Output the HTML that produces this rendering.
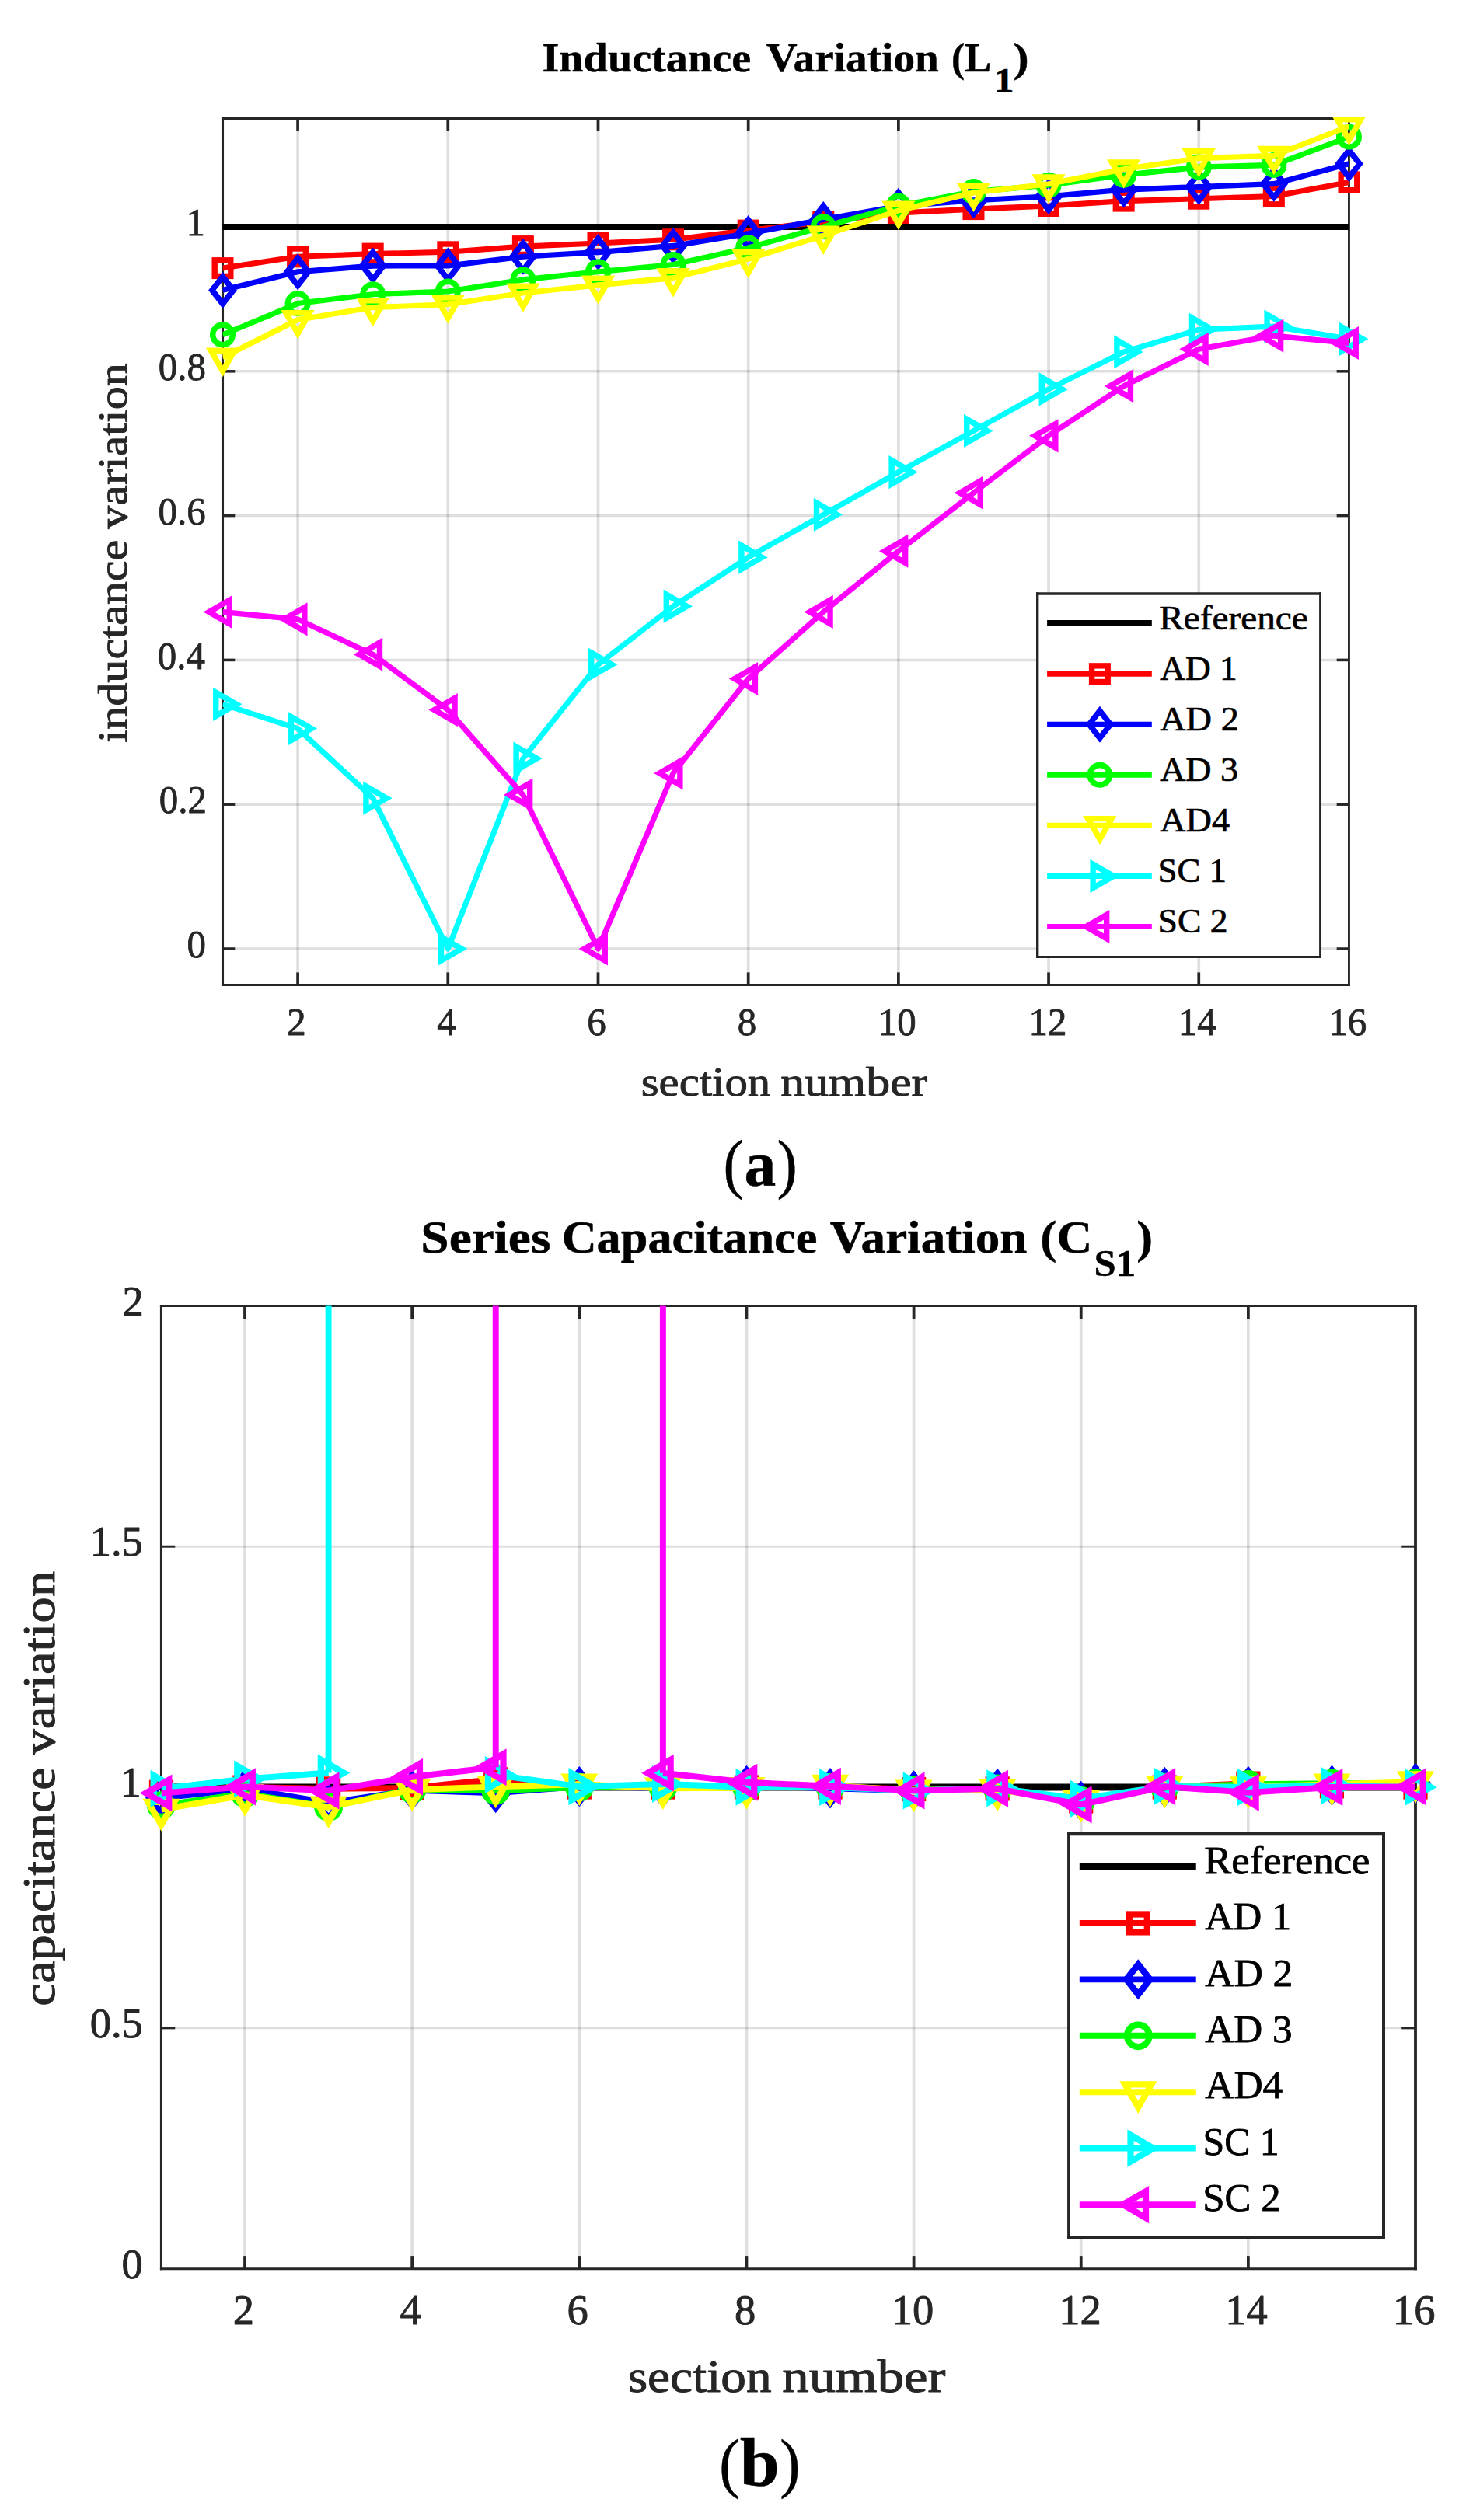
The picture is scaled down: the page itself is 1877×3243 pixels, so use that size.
<!DOCTYPE html>
<html lang="en">
<head>
<meta charset="utf-8">
<title>Inductance and Series Capacitance Variation</title>
<style>
html,body{margin:0;padding:0;background:#fff;}
body{width:1877px;height:3243px;overflow:hidden;}
svg{display:block;}
text{white-space:pre;}
</style>
</head>
<body>
<svg width="1877" height="3243" viewBox="0 0 1877 3243" font-family="'Liberation Serif', serif">
<rect width="1877" height="3243" fill="#fff"/>
<line x1="383.10" y1="152.90" x2="383.10" y2="1267.50" stroke="#262626" stroke-opacity="0.15" stroke-width="3.70"/>
<line x1="576.29" y1="152.90" x2="576.29" y2="1267.50" stroke="#262626" stroke-opacity="0.15" stroke-width="3.70"/>
<line x1="769.48" y1="152.90" x2="769.48" y2="1267.50" stroke="#262626" stroke-opacity="0.15" stroke-width="3.70"/>
<line x1="962.68" y1="152.90" x2="962.68" y2="1267.50" stroke="#262626" stroke-opacity="0.15" stroke-width="3.70"/>
<line x1="1155.87" y1="152.90" x2="1155.87" y2="1267.50" stroke="#262626" stroke-opacity="0.15" stroke-width="3.70"/>
<line x1="1349.06" y1="152.90" x2="1349.06" y2="1267.50" stroke="#262626" stroke-opacity="0.15" stroke-width="3.70"/>
<line x1="1542.26" y1="152.90" x2="1542.26" y2="1267.50" stroke="#262626" stroke-opacity="0.15" stroke-width="3.70"/>
<line x1="286.50" y1="1221.00" x2="1735.45" y2="1221.00" stroke="#262626" stroke-opacity="0.15" stroke-width="3.50"/>
<line x1="286.50" y1="1035.20" x2="1735.45" y2="1035.20" stroke="#262626" stroke-opacity="0.15" stroke-width="3.50"/>
<line x1="286.50" y1="849.40" x2="1735.45" y2="849.40" stroke="#262626" stroke-opacity="0.15" stroke-width="3.50"/>
<line x1="286.50" y1="663.60" x2="1735.45" y2="663.60" stroke="#262626" stroke-opacity="0.15" stroke-width="3.50"/>
<line x1="286.50" y1="477.80" x2="1735.45" y2="477.80" stroke="#262626" stroke-opacity="0.15" stroke-width="3.50"/>
<line x1="286.50" y1="292.00" x2="1735.45" y2="292.00" stroke="#262626" stroke-opacity="0.15" stroke-width="3.50"/>
<line x1="383.10" y1="1267.50" x2="383.10" y2="1251.40" stroke="#262626" stroke-width="3.70"/>
<line x1="383.10" y1="152.90" x2="383.10" y2="169.00" stroke="#262626" stroke-width="3.70"/>
<line x1="576.29" y1="1267.50" x2="576.29" y2="1251.40" stroke="#262626" stroke-width="3.70"/>
<line x1="576.29" y1="152.90" x2="576.29" y2="169.00" stroke="#262626" stroke-width="3.70"/>
<line x1="769.48" y1="1267.50" x2="769.48" y2="1251.40" stroke="#262626" stroke-width="3.70"/>
<line x1="769.48" y1="152.90" x2="769.48" y2="169.00" stroke="#262626" stroke-width="3.70"/>
<line x1="962.68" y1="1267.50" x2="962.68" y2="1251.40" stroke="#262626" stroke-width="3.70"/>
<line x1="962.68" y1="152.90" x2="962.68" y2="169.00" stroke="#262626" stroke-width="3.70"/>
<line x1="1155.87" y1="1267.50" x2="1155.87" y2="1251.40" stroke="#262626" stroke-width="3.70"/>
<line x1="1155.87" y1="152.90" x2="1155.87" y2="169.00" stroke="#262626" stroke-width="3.70"/>
<line x1="1349.06" y1="1267.50" x2="1349.06" y2="1251.40" stroke="#262626" stroke-width="3.70"/>
<line x1="1349.06" y1="152.90" x2="1349.06" y2="169.00" stroke="#262626" stroke-width="3.70"/>
<line x1="1542.26" y1="1267.50" x2="1542.26" y2="1251.40" stroke="#262626" stroke-width="3.70"/>
<line x1="1542.26" y1="152.90" x2="1542.26" y2="169.00" stroke="#262626" stroke-width="3.70"/>
<line x1="286.50" y1="1221.00" x2="302.30" y2="1221.00" stroke="#262626" stroke-width="3.50"/>
<line x1="1735.45" y1="1221.00" x2="1719.65" y2="1221.00" stroke="#262626" stroke-width="3.50"/>
<line x1="286.50" y1="1035.20" x2="302.30" y2="1035.20" stroke="#262626" stroke-width="3.50"/>
<line x1="1735.45" y1="1035.20" x2="1719.65" y2="1035.20" stroke="#262626" stroke-width="3.50"/>
<line x1="286.50" y1="849.40" x2="302.30" y2="849.40" stroke="#262626" stroke-width="3.50"/>
<line x1="1735.45" y1="849.40" x2="1719.65" y2="849.40" stroke="#262626" stroke-width="3.50"/>
<line x1="286.50" y1="663.60" x2="302.30" y2="663.60" stroke="#262626" stroke-width="3.50"/>
<line x1="1735.45" y1="663.60" x2="1719.65" y2="663.60" stroke="#262626" stroke-width="3.50"/>
<line x1="286.50" y1="477.80" x2="302.30" y2="477.80" stroke="#262626" stroke-width="3.50"/>
<line x1="1735.45" y1="477.80" x2="1719.65" y2="477.80" stroke="#262626" stroke-width="3.50"/>
<line x1="286.50" y1="292.00" x2="302.30" y2="292.00" stroke="#262626" stroke-width="3.50"/>
<line x1="1735.45" y1="292.00" x2="1719.65" y2="292.00" stroke="#262626" stroke-width="3.50"/>
<line x1="284.95" y1="152.90" x2="1736.90" y2="152.90" stroke="#262626" stroke-width="3.84"/>
<line x1="284.95" y1="1267.50" x2="1736.90" y2="1267.50" stroke="#262626" stroke-width="2.90"/>
<line x1="286.50" y1="150.98" x2="286.50" y2="1268.95" stroke="#262626" stroke-width="3.10"/>
<line x1="1735.45" y1="150.98" x2="1735.45" y2="1268.95" stroke="#262626" stroke-width="2.90"/>
<clipPath id="cp1"><rect x="286.50" y="152.90" width="1448.95" height="1114.60"/></clipPath>
<line x1="286.50" y1="292.00" x2="1735.45" y2="292.00" stroke="#000" stroke-width="8.00"/>
<g clip-path="url(#cp1)"><path d="M286.5 345.1L383.1 330.3L479.7 326.6L576.3 324.3L672.9 317.1L769.5 313.0L866.1 308.3L962.7 296.6L1059.3 285.3L1155.9 274.0L1252.5 269.1L1349.1 265.0L1445.7 258.6L1542.3 255.7L1638.9 252.5L1735.5 234.4" fill="none" stroke="#ff0000" stroke-width="7.10" stroke-linejoin="round"/></g>
<rect x="276.20" y="334.80" width="20.60" height="20.60" fill="none" stroke="#ff0000" stroke-width="7.40" stroke-linejoin="miter" stroke-miterlimit="10"/><rect x="372.80" y="320.00" width="20.60" height="20.60" fill="none" stroke="#ff0000" stroke-width="7.40" stroke-linejoin="miter" stroke-miterlimit="10"/><rect x="469.39" y="316.30" width="20.60" height="20.60" fill="none" stroke="#ff0000" stroke-width="7.40" stroke-linejoin="miter" stroke-miterlimit="10"/><rect x="565.99" y="314.00" width="20.60" height="20.60" fill="none" stroke="#ff0000" stroke-width="7.40" stroke-linejoin="miter" stroke-miterlimit="10"/><rect x="662.59" y="306.80" width="20.60" height="20.60" fill="none" stroke="#ff0000" stroke-width="7.40" stroke-linejoin="miter" stroke-miterlimit="10"/><rect x="759.18" y="302.70" width="20.60" height="20.60" fill="none" stroke="#ff0000" stroke-width="7.40" stroke-linejoin="miter" stroke-miterlimit="10"/><rect x="855.78" y="298.00" width="20.60" height="20.60" fill="none" stroke="#ff0000" stroke-width="7.40" stroke-linejoin="miter" stroke-miterlimit="10"/><rect x="952.38" y="286.30" width="20.60" height="20.60" fill="none" stroke="#ff0000" stroke-width="7.40" stroke-linejoin="miter" stroke-miterlimit="10"/><rect x="1048.97" y="275.00" width="20.60" height="20.60" fill="none" stroke="#ff0000" stroke-width="7.40" stroke-linejoin="miter" stroke-miterlimit="10"/><rect x="1145.57" y="263.70" width="20.60" height="20.60" fill="none" stroke="#ff0000" stroke-width="7.40" stroke-linejoin="miter" stroke-miterlimit="10"/><rect x="1242.17" y="258.80" width="20.60" height="20.60" fill="none" stroke="#ff0000" stroke-width="7.40" stroke-linejoin="miter" stroke-miterlimit="10"/><rect x="1338.76" y="254.70" width="20.60" height="20.60" fill="none" stroke="#ff0000" stroke-width="7.40" stroke-linejoin="miter" stroke-miterlimit="10"/><rect x="1435.36" y="248.30" width="20.60" height="20.60" fill="none" stroke="#ff0000" stroke-width="7.40" stroke-linejoin="miter" stroke-miterlimit="10"/><rect x="1531.96" y="245.40" width="20.60" height="20.60" fill="none" stroke="#ff0000" stroke-width="7.40" stroke-linejoin="miter" stroke-miterlimit="10"/><rect x="1628.55" y="242.20" width="20.60" height="20.60" fill="none" stroke="#ff0000" stroke-width="7.40" stroke-linejoin="miter" stroke-miterlimit="10"/><rect x="1725.15" y="224.10" width="20.60" height="20.60" fill="none" stroke="#ff0000" stroke-width="7.40" stroke-linejoin="miter" stroke-miterlimit="10"/>
<g clip-path="url(#cp1)"><path d="M286.5 373.4L383.1 349.7L479.7 342.1L576.3 342.0L672.9 330.3L769.5 324.6L866.1 316.4L962.7 300.6L1059.3 282.5L1155.9 265.3L1252.5 257.9L1349.1 252.7L1445.7 244.1L1542.3 240.5L1638.9 236.6L1735.5 210.8" fill="none" stroke="#0000ff" stroke-width="7.10" stroke-linejoin="round"/></g>
<path d="M286.50 355.90L300.20 373.40L286.50 390.90L272.80 373.40Z" fill="none" stroke="#0000ff" stroke-width="7.40" stroke-linejoin="miter" stroke-miterlimit="10"/><path d="M383.10 332.20L396.80 349.70L383.10 367.20L369.40 349.70Z" fill="none" stroke="#0000ff" stroke-width="7.40" stroke-linejoin="miter" stroke-miterlimit="10"/><path d="M479.69 324.60L493.39 342.10L479.69 359.60L465.99 342.10Z" fill="none" stroke="#0000ff" stroke-width="7.40" stroke-linejoin="miter" stroke-miterlimit="10"/><path d="M576.29 324.50L589.99 342.00L576.29 359.50L562.59 342.00Z" fill="none" stroke="#0000ff" stroke-width="7.40" stroke-linejoin="miter" stroke-miterlimit="10"/><path d="M672.89 312.80L686.59 330.30L672.89 347.80L659.19 330.30Z" fill="none" stroke="#0000ff" stroke-width="7.40" stroke-linejoin="miter" stroke-miterlimit="10"/><path d="M769.48 307.10L783.18 324.60L769.48 342.10L755.78 324.60Z" fill="none" stroke="#0000ff" stroke-width="7.40" stroke-linejoin="miter" stroke-miterlimit="10"/><path d="M866.08 298.90L879.78 316.40L866.08 333.90L852.38 316.40Z" fill="none" stroke="#0000ff" stroke-width="7.40" stroke-linejoin="miter" stroke-miterlimit="10"/><path d="M962.68 283.10L976.38 300.60L962.68 318.10L948.98 300.60Z" fill="none" stroke="#0000ff" stroke-width="7.40" stroke-linejoin="miter" stroke-miterlimit="10"/><path d="M1059.27 265.00L1072.97 282.50L1059.27 300.00L1045.57 282.50Z" fill="none" stroke="#0000ff" stroke-width="7.40" stroke-linejoin="miter" stroke-miterlimit="10"/><path d="M1155.87 247.80L1169.57 265.30L1155.87 282.80L1142.17 265.30Z" fill="none" stroke="#0000ff" stroke-width="7.40" stroke-linejoin="miter" stroke-miterlimit="10"/><path d="M1252.47 240.40L1266.17 257.90L1252.47 275.40L1238.77 257.90Z" fill="none" stroke="#0000ff" stroke-width="7.40" stroke-linejoin="miter" stroke-miterlimit="10"/><path d="M1349.06 235.20L1362.76 252.70L1349.06 270.20L1335.36 252.70Z" fill="none" stroke="#0000ff" stroke-width="7.40" stroke-linejoin="miter" stroke-miterlimit="10"/><path d="M1445.66 226.60L1459.36 244.10L1445.66 261.60L1431.96 244.10Z" fill="none" stroke="#0000ff" stroke-width="7.40" stroke-linejoin="miter" stroke-miterlimit="10"/><path d="M1542.26 223.00L1555.96 240.50L1542.26 258.00L1528.56 240.50Z" fill="none" stroke="#0000ff" stroke-width="7.40" stroke-linejoin="miter" stroke-miterlimit="10"/><path d="M1638.85 219.10L1652.55 236.60L1638.85 254.10L1625.15 236.60Z" fill="none" stroke="#0000ff" stroke-width="7.40" stroke-linejoin="miter" stroke-miterlimit="10"/><path d="M1735.45 193.30L1749.15 210.80L1735.45 228.30L1721.75 210.80Z" fill="none" stroke="#0000ff" stroke-width="7.40" stroke-linejoin="miter" stroke-miterlimit="10"/>
<g clip-path="url(#cp1)"><path d="M286.5 430.8L383.1 390.6L479.7 378.7L576.3 375.0L672.9 359.9L769.5 349.7L866.1 340.5L962.7 318.9L1059.3 291.8L1155.9 265.1L1252.5 246.6L1349.1 238.3L1445.7 225.3L1542.3 215.1L1638.9 212.4L1735.5 176.2" fill="none" stroke="#00ff00" stroke-width="7.10" stroke-linejoin="round"/></g>
<circle cx="286.50" cy="430.80" r="12.80" fill="none" stroke="#00ff00" stroke-width="7.40" stroke-linejoin="miter" stroke-miterlimit="10"/><circle cx="383.10" cy="390.60" r="12.80" fill="none" stroke="#00ff00" stroke-width="7.40" stroke-linejoin="miter" stroke-miterlimit="10"/><circle cx="479.69" cy="378.70" r="12.80" fill="none" stroke="#00ff00" stroke-width="7.40" stroke-linejoin="miter" stroke-miterlimit="10"/><circle cx="576.29" cy="375.00" r="12.80" fill="none" stroke="#00ff00" stroke-width="7.40" stroke-linejoin="miter" stroke-miterlimit="10"/><circle cx="672.89" cy="359.90" r="12.80" fill="none" stroke="#00ff00" stroke-width="7.40" stroke-linejoin="miter" stroke-miterlimit="10"/><circle cx="769.48" cy="349.70" r="12.80" fill="none" stroke="#00ff00" stroke-width="7.40" stroke-linejoin="miter" stroke-miterlimit="10"/><circle cx="866.08" cy="340.50" r="12.80" fill="none" stroke="#00ff00" stroke-width="7.40" stroke-linejoin="miter" stroke-miterlimit="10"/><circle cx="962.68" cy="318.90" r="12.80" fill="none" stroke="#00ff00" stroke-width="7.40" stroke-linejoin="miter" stroke-miterlimit="10"/><circle cx="1059.27" cy="291.80" r="12.80" fill="none" stroke="#00ff00" stroke-width="7.40" stroke-linejoin="miter" stroke-miterlimit="10"/><circle cx="1155.87" cy="265.10" r="12.80" fill="none" stroke="#00ff00" stroke-width="7.40" stroke-linejoin="miter" stroke-miterlimit="10"/><circle cx="1252.47" cy="246.60" r="12.80" fill="none" stroke="#00ff00" stroke-width="7.40" stroke-linejoin="miter" stroke-miterlimit="10"/><circle cx="1349.06" cy="238.30" r="12.80" fill="none" stroke="#00ff00" stroke-width="7.40" stroke-linejoin="miter" stroke-miterlimit="10"/><circle cx="1445.66" cy="225.30" r="12.80" fill="none" stroke="#00ff00" stroke-width="7.40" stroke-linejoin="miter" stroke-miterlimit="10"/><circle cx="1542.26" cy="215.10" r="12.80" fill="none" stroke="#00ff00" stroke-width="7.40" stroke-linejoin="miter" stroke-miterlimit="10"/><circle cx="1638.85" cy="212.40" r="12.80" fill="none" stroke="#00ff00" stroke-width="7.40" stroke-linejoin="miter" stroke-miterlimit="10"/><circle cx="1735.45" cy="176.20" r="12.80" fill="none" stroke="#00ff00" stroke-width="7.40" stroke-linejoin="miter" stroke-miterlimit="10"/>
<g clip-path="url(#cp1)"><path d="M286.5 460.0L383.1 411.5L479.7 395.6L576.3 391.8L672.9 377.0L769.5 366.9L866.1 357.6L962.7 333.3L1059.3 303.1L1155.9 271.0L1252.5 248.0L1349.1 236.8L1445.7 217.7L1542.3 203.6L1638.9 200.2L1735.5 162.5" fill="none" stroke="#ffff00" stroke-width="7.10" stroke-linejoin="round"/></g>
<path d="M271.30 451.22L301.70 451.22L286.50 477.55Z" fill="none" stroke="#ffff00" stroke-width="7.40" stroke-linejoin="miter" stroke-miterlimit="10"/><path d="M367.90 402.72L398.30 402.72L383.10 429.05Z" fill="none" stroke="#ffff00" stroke-width="7.40" stroke-linejoin="miter" stroke-miterlimit="10"/><path d="M464.49 386.82L494.89 386.82L479.69 413.15Z" fill="none" stroke="#ffff00" stroke-width="7.40" stroke-linejoin="miter" stroke-miterlimit="10"/><path d="M561.09 383.02L591.49 383.02L576.29 409.35Z" fill="none" stroke="#ffff00" stroke-width="7.40" stroke-linejoin="miter" stroke-miterlimit="10"/><path d="M657.69 368.22L688.09 368.22L672.89 394.55Z" fill="none" stroke="#ffff00" stroke-width="7.40" stroke-linejoin="miter" stroke-miterlimit="10"/><path d="M754.28 358.12L784.68 358.12L769.48 384.45Z" fill="none" stroke="#ffff00" stroke-width="7.40" stroke-linejoin="miter" stroke-miterlimit="10"/><path d="M850.88 348.82L881.28 348.82L866.08 375.15Z" fill="none" stroke="#ffff00" stroke-width="7.40" stroke-linejoin="miter" stroke-miterlimit="10"/><path d="M947.48 324.52L977.88 324.52L962.68 350.85Z" fill="none" stroke="#ffff00" stroke-width="7.40" stroke-linejoin="miter" stroke-miterlimit="10"/><path d="M1044.07 294.32L1074.47 294.32L1059.27 320.65Z" fill="none" stroke="#ffff00" stroke-width="7.40" stroke-linejoin="miter" stroke-miterlimit="10"/><path d="M1140.67 262.22L1171.07 262.22L1155.87 288.55Z" fill="none" stroke="#ffff00" stroke-width="7.40" stroke-linejoin="miter" stroke-miterlimit="10"/><path d="M1237.27 239.22L1267.67 239.22L1252.47 265.55Z" fill="none" stroke="#ffff00" stroke-width="7.40" stroke-linejoin="miter" stroke-miterlimit="10"/><path d="M1333.86 228.02L1364.26 228.02L1349.06 254.35Z" fill="none" stroke="#ffff00" stroke-width="7.40" stroke-linejoin="miter" stroke-miterlimit="10"/><path d="M1430.46 208.92L1460.86 208.92L1445.66 235.25Z" fill="none" stroke="#ffff00" stroke-width="7.40" stroke-linejoin="miter" stroke-miterlimit="10"/><path d="M1527.06 194.82L1557.46 194.82L1542.26 221.15Z" fill="none" stroke="#ffff00" stroke-width="7.40" stroke-linejoin="miter" stroke-miterlimit="10"/><path d="M1623.65 191.42L1654.05 191.42L1638.85 217.75Z" fill="none" stroke="#ffff00" stroke-width="7.40" stroke-linejoin="miter" stroke-miterlimit="10"/><path d="M1720.25 153.72L1750.65 153.72L1735.45 180.05Z" fill="none" stroke="#ffff00" stroke-width="7.40" stroke-linejoin="miter" stroke-miterlimit="10"/>
<g clip-path="url(#cp1)"><path d="M286.5 906.3L383.1 937.6L479.7 1027.2L576.3 1221.0L672.9 976.1L769.5 855.3L866.1 780.2L962.7 717.2L1059.3 662.3L1155.9 607.6L1252.5 554.5L1349.1 500.9L1445.7 452.9L1542.3 424.3L1638.9 420.1L1735.5 436.3" fill="none" stroke="#00ffff" stroke-width="7.10" stroke-linejoin="round"/></g>
<path d="M277.72 891.10L277.72 921.50L304.05 906.30Z" fill="none" stroke="#00ffff" stroke-width="7.40" stroke-linejoin="miter" stroke-miterlimit="10"/><path d="M374.32 922.40L374.32 952.80L400.65 937.60Z" fill="none" stroke="#00ffff" stroke-width="7.40" stroke-linejoin="miter" stroke-miterlimit="10"/><path d="M470.92 1012.00L470.92 1042.40L497.24 1027.20Z" fill="none" stroke="#00ffff" stroke-width="7.40" stroke-linejoin="miter" stroke-miterlimit="10"/><path d="M567.51 1205.80L567.51 1236.20L593.84 1221.00Z" fill="none" stroke="#00ffff" stroke-width="7.40" stroke-linejoin="miter" stroke-miterlimit="10"/><path d="M664.11 960.90L664.11 991.30L690.44 976.10Z" fill="none" stroke="#00ffff" stroke-width="7.40" stroke-linejoin="miter" stroke-miterlimit="10"/><path d="M760.71 840.10L760.71 870.50L787.03 855.30Z" fill="none" stroke="#00ffff" stroke-width="7.40" stroke-linejoin="miter" stroke-miterlimit="10"/><path d="M857.30 765.00L857.30 795.40L883.63 780.20Z" fill="none" stroke="#00ffff" stroke-width="7.40" stroke-linejoin="miter" stroke-miterlimit="10"/><path d="M953.90 702.00L953.90 732.40L980.23 717.20Z" fill="none" stroke="#00ffff" stroke-width="7.40" stroke-linejoin="miter" stroke-miterlimit="10"/><path d="M1050.50 647.10L1050.50 677.50L1076.82 662.30Z" fill="none" stroke="#00ffff" stroke-width="7.40" stroke-linejoin="miter" stroke-miterlimit="10"/><path d="M1147.09 592.40L1147.09 622.80L1173.42 607.60Z" fill="none" stroke="#00ffff" stroke-width="7.40" stroke-linejoin="miter" stroke-miterlimit="10"/><path d="M1243.69 539.30L1243.69 569.70L1270.02 554.50Z" fill="none" stroke="#00ffff" stroke-width="7.40" stroke-linejoin="miter" stroke-miterlimit="10"/><path d="M1340.29 485.70L1340.29 516.10L1366.61 500.90Z" fill="none" stroke="#00ffff" stroke-width="7.40" stroke-linejoin="miter" stroke-miterlimit="10"/><path d="M1436.88 437.70L1436.88 468.10L1463.21 452.90Z" fill="none" stroke="#00ffff" stroke-width="7.40" stroke-linejoin="miter" stroke-miterlimit="10"/><path d="M1533.48 409.10L1533.48 439.50L1559.81 424.30Z" fill="none" stroke="#00ffff" stroke-width="7.40" stroke-linejoin="miter" stroke-miterlimit="10"/><path d="M1630.08 404.90L1630.08 435.30L1656.40 420.10Z" fill="none" stroke="#00ffff" stroke-width="7.40" stroke-linejoin="miter" stroke-miterlimit="10"/><path d="M1726.67 421.10L1726.67 451.50L1753.00 436.30Z" fill="none" stroke="#00ffff" stroke-width="7.40" stroke-linejoin="miter" stroke-miterlimit="10"/>
<g clip-path="url(#cp1)"><path d="M286.5 787.6L383.1 796.9L479.7 842.2L576.3 913.6L672.9 1023.0L769.5 1221.0L866.1 994.9L962.7 873.5L1059.3 787.4L1155.9 709.2L1252.5 634.2L1349.1 560.8L1445.7 496.7L1542.3 449.3L1638.9 432.1L1735.5 441.5" fill="none" stroke="#ff00ff" stroke-width="7.10" stroke-linejoin="round"/></g>
<path d="M295.28 772.40L295.28 802.80L268.95 787.60Z" fill="none" stroke="#ff00ff" stroke-width="7.40" stroke-linejoin="miter" stroke-miterlimit="10"/><path d="M391.87 781.70L391.87 812.10L365.55 796.90Z" fill="none" stroke="#ff00ff" stroke-width="7.40" stroke-linejoin="miter" stroke-miterlimit="10"/><path d="M488.47 827.00L488.47 857.40L462.14 842.20Z" fill="none" stroke="#ff00ff" stroke-width="7.40" stroke-linejoin="miter" stroke-miterlimit="10"/><path d="M585.07 898.40L585.07 928.80L558.74 913.60Z" fill="none" stroke="#ff00ff" stroke-width="7.40" stroke-linejoin="miter" stroke-miterlimit="10"/><path d="M681.66 1007.80L681.66 1038.20L655.34 1023.00Z" fill="none" stroke="#ff00ff" stroke-width="7.40" stroke-linejoin="miter" stroke-miterlimit="10"/><path d="M778.26 1205.80L778.26 1236.20L751.93 1221.00Z" fill="none" stroke="#ff00ff" stroke-width="7.40" stroke-linejoin="miter" stroke-miterlimit="10"/><path d="M874.86 979.70L874.86 1010.10L848.53 994.90Z" fill="none" stroke="#ff00ff" stroke-width="7.40" stroke-linejoin="miter" stroke-miterlimit="10"/><path d="M971.45 858.30L971.45 888.70L945.13 873.50Z" fill="none" stroke="#ff00ff" stroke-width="7.40" stroke-linejoin="miter" stroke-miterlimit="10"/><path d="M1068.05 772.20L1068.05 802.60L1041.72 787.40Z" fill="none" stroke="#ff00ff" stroke-width="7.40" stroke-linejoin="miter" stroke-miterlimit="10"/><path d="M1164.65 694.00L1164.65 724.40L1138.32 709.20Z" fill="none" stroke="#ff00ff" stroke-width="7.40" stroke-linejoin="miter" stroke-miterlimit="10"/><path d="M1261.24 619.00L1261.24 649.40L1234.92 634.20Z" fill="none" stroke="#ff00ff" stroke-width="7.40" stroke-linejoin="miter" stroke-miterlimit="10"/><path d="M1357.84 545.60L1357.84 576.00L1331.51 560.80Z" fill="none" stroke="#ff00ff" stroke-width="7.40" stroke-linejoin="miter" stroke-miterlimit="10"/><path d="M1454.44 481.50L1454.44 511.90L1428.11 496.70Z" fill="none" stroke="#ff00ff" stroke-width="7.40" stroke-linejoin="miter" stroke-miterlimit="10"/><path d="M1551.03 434.10L1551.03 464.50L1524.71 449.30Z" fill="none" stroke="#ff00ff" stroke-width="7.40" stroke-linejoin="miter" stroke-miterlimit="10"/><path d="M1647.63 416.90L1647.63 447.30L1621.30 432.10Z" fill="none" stroke="#ff00ff" stroke-width="7.40" stroke-linejoin="miter" stroke-miterlimit="10"/><path d="M1744.23 426.30L1744.23 456.70L1717.90 441.50Z" fill="none" stroke="#ff00ff" stroke-width="7.40" stroke-linejoin="miter" stroke-miterlimit="10"/>
<rect x="1334.70" y="764.00" width="363.85" height="467.50" fill="#fff"/>
<line x1="1333.00" y1="764.00" x2="1700.00" y2="764.00" stroke="#262626" stroke-width="3.70"/>
<line x1="1333.00" y1="1231.50" x2="1700.00" y2="1231.50" stroke="#262626" stroke-width="2.90"/>
<line x1="1334.70" y1="762.15" x2="1334.70" y2="1232.95" stroke="#262626" stroke-width="3.40"/>
<line x1="1698.55" y1="762.15" x2="1698.55" y2="1232.95" stroke="#262626" stroke-width="2.90"/>
<line x1="1347.10" y1="802.10" x2="1481.80" y2="802.10" stroke="#000000" stroke-width="8.00"/>
<text transform="translate(1491.30,809.50) scale(1.0593,1)" font-size="44.60" fill="#000" stroke="#000" stroke-width="0.71" stroke-linejoin="round">Reference</text>
<line x1="1347.10" y1="867.17" x2="1481.80" y2="867.17" stroke="#ff0000" stroke-width="7.10"/>
<rect x="1404.60" y="856.87" width="20.60" height="20.60" fill="none" stroke="#ff0000" stroke-width="7.40" stroke-linejoin="miter" stroke-miterlimit="10"/>
<text transform="translate(1492.15,874.57) scale(1.0182,1)" font-size="44.60" fill="#000" stroke="#000" stroke-width="0.71" stroke-linejoin="round">AD 1</text>
<line x1="1347.10" y1="932.24" x2="1481.80" y2="932.24" stroke="#0000ff" stroke-width="7.10"/>
<path d="M1414.90 914.74L1428.60 932.24L1414.90 949.74L1401.20 932.24Z" fill="none" stroke="#0000ff" stroke-width="7.40" stroke-linejoin="miter" stroke-miterlimit="10"/>
<text transform="translate(1492.14,939.64) scale(1.0390,1)" font-size="44.60" fill="#000" stroke="#000" stroke-width="0.71" stroke-linejoin="round">AD 2</text>
<line x1="1347.10" y1="997.31" x2="1481.80" y2="997.31" stroke="#00ff00" stroke-width="7.10"/>
<circle cx="1414.90" cy="997.31" r="12.80" fill="none" stroke="#00ff00" stroke-width="7.40" stroke-linejoin="miter" stroke-miterlimit="10"/>
<text transform="translate(1492.14,1004.71) scale(1.0317,1)" font-size="44.60" fill="#000" stroke="#000" stroke-width="0.71" stroke-linejoin="round">AD 3</text>
<line x1="1347.10" y1="1062.38" x2="1481.80" y2="1062.38" stroke="#ffff00" stroke-width="7.10"/>
<path d="M1399.70 1053.60L1430.10 1053.60L1414.90 1079.93Z" fill="none" stroke="#ffff00" stroke-width="7.40" stroke-linejoin="miter" stroke-miterlimit="10"/>
<text transform="translate(1492.14,1069.78) scale(1.0370,1)" font-size="44.60" fill="#000" stroke="#000" stroke-width="0.71" stroke-linejoin="round">AD4</text>
<line x1="1347.10" y1="1127.45" x2="1481.80" y2="1127.45" stroke="#00ffff" stroke-width="7.10"/>
<path d="M1406.12 1112.25L1406.12 1142.65L1432.45 1127.45Z" fill="none" stroke="#00ffff" stroke-width="7.40" stroke-linejoin="miter" stroke-miterlimit="10"/>
<text transform="translate(1489.57,1134.85) scale(1.0050,1)" font-size="44.60" fill="#000" stroke="#000" stroke-width="0.71" stroke-linejoin="round">SC 1</text>
<line x1="1347.10" y1="1192.52" x2="1481.80" y2="1192.52" stroke="#ff00ff" stroke-width="7.10"/>
<path d="M1423.68 1177.32L1423.68 1207.72L1397.35 1192.52Z" fill="none" stroke="#ff00ff" stroke-width="7.40" stroke-linejoin="miter" stroke-miterlimit="10"/>
<text transform="translate(1489.52,1199.92) scale(1.0241,1)" font-size="44.60" fill="#000" stroke="#000" stroke-width="0.71" stroke-linejoin="round">SC 2</text>
<text transform="translate(240.56,1232.20) scale(0.9750,1)" font-size="50.20" fill="#262626" stroke="#262626" stroke-width="0.80" stroke-linejoin="round">0</text>
<text transform="translate(204.71,1046.40) scale(0.9750,1)" font-size="50.20" fill="#262626" stroke="#262626" stroke-width="0.80" stroke-linejoin="round">0.2</text>
<text transform="translate(202.75,860.60) scale(0.9750,1)" font-size="50.20" fill="#262626" stroke="#262626" stroke-width="0.80" stroke-linejoin="round">0.4</text>
<text transform="translate(203.49,674.80) scale(0.9750,1)" font-size="50.20" fill="#262626" stroke="#262626" stroke-width="0.80" stroke-linejoin="round">0.6</text>
<text transform="translate(203.85,489.00) scale(0.9750,1)" font-size="50.20" fill="#262626" stroke="#262626" stroke-width="0.80" stroke-linejoin="round">0.8</text>
<text transform="translate(239.46,303.20) scale(0.9750,1)" font-size="50.20" fill="#262626" stroke="#262626" stroke-width="0.80" stroke-linejoin="round">1</text>
<text transform="translate(369.37,1331.70) scale(0.9750,1)" font-size="50.20" fill="#262626" stroke="#262626" stroke-width="0.80" stroke-linejoin="round">2</text>
<text transform="translate(562.13,1331.70) scale(0.9750,1)" font-size="50.20" fill="#262626" stroke="#262626" stroke-width="0.80" stroke-linejoin="round">4</text>
<text transform="translate(755.14,1331.70) scale(0.9750,1)" font-size="50.20" fill="#262626" stroke="#262626" stroke-width="0.80" stroke-linejoin="round">6</text>
<text transform="translate(948.64,1331.70) scale(0.9750,1)" font-size="50.20" fill="#262626" stroke="#262626" stroke-width="0.80" stroke-linejoin="round">8</text>
<text transform="translate(1129.87,1331.70) scale(0.9750,1)" font-size="50.20" fill="#262626" stroke="#262626" stroke-width="0.80" stroke-linejoin="round">10</text>
<text transform="translate(1323.50,1331.70) scale(0.9750,1)" font-size="50.20" fill="#262626" stroke="#262626" stroke-width="0.80" stroke-linejoin="round">12</text>
<text transform="translate(1515.71,1331.70) scale(0.9750,1)" font-size="50.20" fill="#262626" stroke="#262626" stroke-width="0.80" stroke-linejoin="round">14</text>
<text transform="translate(1709.27,1331.70) scale(0.9750,1)" font-size="50.20" fill="#262626" stroke="#262626" stroke-width="0.80" stroke-linejoin="round">16</text>
<text transform="translate(162.70,955.71) rotate(-90) scale(1.1207,1)" font-size="53.80" fill="#262626" stroke="#262626" stroke-width="0.86" stroke-linejoin="round">inductance</text>
<text transform="translate(162.70,680.70) rotate(-90) scale(1.1158,1)" font-size="53.80" fill="#262626" stroke="#262626" stroke-width="0.86" stroke-linejoin="round">variation</text>
<text transform="translate(824.65,1410.10) scale(1.0935,1)" font-size="53.80" fill="#262626" stroke="#262626" stroke-width="0.86" stroke-linejoin="round">section</text>
<text transform="translate(1004.21,1410.10) scale(1.1503,1)" font-size="53.80" fill="#262626" stroke="#262626" stroke-width="0.86" stroke-linejoin="round">number</text>
<text transform="translate(697.47,92.00) scale(1.0772,1)" font-size="52.20" font-weight="bold" fill="#000" stroke="#000" stroke-width="0.47" stroke-linejoin="round">Inductance</text>
<text transform="translate(985.75,92.00) scale(1.0583,1)" font-size="52.20" font-weight="bold" fill="#000" stroke="#000" stroke-width="0.47" stroke-linejoin="round">Variation</text>
<text transform="translate(1224.02,92.00) scale(0.9840,1)" font-size="52.20" font-weight="bold" fill="#000" stroke="#000" stroke-width="0.47" stroke-linejoin="round">(L</text>
<text transform="translate(1278.86,118.40) scale(1.1858,1)" font-size="43.60" font-weight="bold" fill="#000" stroke="#000" stroke-width="0.39" stroke-linejoin="round">1</text>
<text transform="translate(1303.43,92.00) scale(1.1606,1)" font-size="52.20" font-weight="bold" fill="#000" stroke="#000" stroke-width="0.47" stroke-linejoin="round">)</text>
<text transform="translate(930.48,1526.20) scale(0.9227,1)" font-size="84.60" fill="#000" stroke="#000" stroke-width="0.50" stroke-linejoin="round">(</text>
<text transform="translate(957.45,1526.30) scale(0.9813,1)" font-size="83.10" font-weight="bold" fill="#000" stroke="#000" stroke-width="0.50" stroke-linejoin="round">a</text>
<text transform="translate(999.44,1526.20) scale(0.9319,1)" font-size="84.60" fill="#000" stroke="#000" stroke-width="0.50" stroke-linejoin="round">)</text>
<line x1="315.04" y1="1680.40" x2="315.04" y2="2919.70" stroke="#262626" stroke-opacity="0.15" stroke-width="3.75"/>
<line x1="530.18" y1="1680.40" x2="530.18" y2="2919.70" stroke="#262626" stroke-opacity="0.15" stroke-width="3.75"/>
<line x1="745.31" y1="1680.40" x2="745.31" y2="2919.70" stroke="#262626" stroke-opacity="0.15" stroke-width="3.75"/>
<line x1="960.45" y1="1680.40" x2="960.45" y2="2919.70" stroke="#262626" stroke-opacity="0.15" stroke-width="3.75"/>
<line x1="1175.59" y1="1680.40" x2="1175.59" y2="2919.70" stroke="#262626" stroke-opacity="0.15" stroke-width="3.75"/>
<line x1="1390.73" y1="1680.40" x2="1390.73" y2="2919.70" stroke="#262626" stroke-opacity="0.15" stroke-width="3.75"/>
<line x1="1605.86" y1="1680.40" x2="1605.86" y2="2919.70" stroke="#262626" stroke-opacity="0.15" stroke-width="3.75"/>
<line x1="207.47" y1="2609.88" x2="1821.00" y2="2609.88" stroke="#262626" stroke-opacity="0.15" stroke-width="2.90"/>
<line x1="207.47" y1="2300.05" x2="1821.00" y2="2300.05" stroke="#262626" stroke-opacity="0.15" stroke-width="2.90"/>
<line x1="207.47" y1="1990.22" x2="1821.00" y2="1990.22" stroke="#262626" stroke-opacity="0.15" stroke-width="2.90"/>
<line x1="315.04" y1="2919.70" x2="315.04" y2="2903.10" stroke="#262626" stroke-width="3.75"/>
<line x1="315.04" y1="1680.40" x2="315.04" y2="1697.00" stroke="#262626" stroke-width="3.75"/>
<line x1="530.18" y1="2919.70" x2="530.18" y2="2903.10" stroke="#262626" stroke-width="3.75"/>
<line x1="530.18" y1="1680.40" x2="530.18" y2="1697.00" stroke="#262626" stroke-width="3.75"/>
<line x1="745.31" y1="2919.70" x2="745.31" y2="2903.10" stroke="#262626" stroke-width="3.75"/>
<line x1="745.31" y1="1680.40" x2="745.31" y2="1697.00" stroke="#262626" stroke-width="3.75"/>
<line x1="960.45" y1="2919.70" x2="960.45" y2="2903.10" stroke="#262626" stroke-width="3.75"/>
<line x1="960.45" y1="1680.40" x2="960.45" y2="1697.00" stroke="#262626" stroke-width="3.75"/>
<line x1="1175.59" y1="2919.70" x2="1175.59" y2="2903.10" stroke="#262626" stroke-width="3.75"/>
<line x1="1175.59" y1="1680.40" x2="1175.59" y2="1697.00" stroke="#262626" stroke-width="3.75"/>
<line x1="1390.73" y1="2919.70" x2="1390.73" y2="2903.10" stroke="#262626" stroke-width="3.75"/>
<line x1="1390.73" y1="1680.40" x2="1390.73" y2="1697.00" stroke="#262626" stroke-width="3.75"/>
<line x1="1605.86" y1="2919.70" x2="1605.86" y2="2903.10" stroke="#262626" stroke-width="3.75"/>
<line x1="1605.86" y1="1680.40" x2="1605.86" y2="1697.00" stroke="#262626" stroke-width="3.75"/>
<line x1="207.47" y1="2609.88" x2="225.27" y2="2609.88" stroke="#262626" stroke-width="2.90"/>
<line x1="1821.00" y1="2609.88" x2="1803.20" y2="2609.88" stroke="#262626" stroke-width="2.90"/>
<line x1="207.47" y1="2300.05" x2="225.27" y2="2300.05" stroke="#262626" stroke-width="2.90"/>
<line x1="1821.00" y1="2300.05" x2="1803.20" y2="2300.05" stroke="#262626" stroke-width="2.90"/>
<line x1="207.47" y1="1990.22" x2="225.27" y2="1990.22" stroke="#262626" stroke-width="2.90"/>
<line x1="1821.00" y1="1990.22" x2="1803.20" y2="1990.22" stroke="#262626" stroke-width="2.90"/>
<line x1="205.92" y1="1680.40" x2="1822.92" y2="1680.40" stroke="#262626" stroke-width="3.00"/>
<line x1="205.92" y1="2919.70" x2="1822.92" y2="2919.70" stroke="#262626" stroke-width="2.90"/>
<line x1="207.47" y1="1678.90" x2="207.47" y2="2921.15" stroke="#262626" stroke-width="3.10"/>
<line x1="1821.00" y1="1678.90" x2="1821.00" y2="2921.15" stroke="#262626" stroke-width="3.84"/>
<clipPath id="cp2"><rect x="207.47" y="1680.40" width="1613.53" height="1239.30"/></clipPath>
<line x1="207.47" y1="2300.05" x2="1821.00" y2="2300.05" stroke="#000" stroke-width="9.00"/>
<g clip-path="url(#cp2)"><path d="M207.5 2306.2L315.0 2300.0L422.6 2301.9L530.2 2301.0L637.7 2289.8L745.3 2300.0L852.9 2300.0L960.5 2300.0L1068.0 2300.0L1175.6 2302.5L1283.2 2301.9L1390.7 2318.0L1498.3 2300.0L1605.9 2295.1L1713.4 2298.8L1821.0 2300.0" fill="none" stroke="#ff0000" stroke-width="7.91" stroke-linejoin="round"/></g>
<rect x="196.00" y="2294.77" width="22.95" height="22.95" fill="none" stroke="#ff0000" stroke-width="8.24" stroke-linejoin="miter" stroke-miterlimit="10"/><rect x="303.56" y="2288.58" width="22.95" height="22.95" fill="none" stroke="#ff0000" stroke-width="8.24" stroke-linejoin="miter" stroke-miterlimit="10"/><rect x="411.13" y="2290.43" width="22.95" height="22.95" fill="none" stroke="#ff0000" stroke-width="8.24" stroke-linejoin="miter" stroke-miterlimit="10"/><rect x="518.70" y="2289.51" width="22.95" height="22.95" fill="none" stroke="#ff0000" stroke-width="8.24" stroke-linejoin="miter" stroke-miterlimit="10"/><rect x="626.27" y="2278.35" width="22.95" height="22.95" fill="none" stroke="#ff0000" stroke-width="8.24" stroke-linejoin="miter" stroke-miterlimit="10"/><rect x="733.84" y="2288.58" width="22.95" height="22.95" fill="none" stroke="#ff0000" stroke-width="8.24" stroke-linejoin="miter" stroke-miterlimit="10"/><rect x="841.41" y="2288.58" width="22.95" height="22.95" fill="none" stroke="#ff0000" stroke-width="8.24" stroke-linejoin="miter" stroke-miterlimit="10"/><rect x="948.98" y="2288.58" width="22.95" height="22.95" fill="none" stroke="#ff0000" stroke-width="8.24" stroke-linejoin="miter" stroke-miterlimit="10"/><rect x="1056.55" y="2288.58" width="22.95" height="22.95" fill="none" stroke="#ff0000" stroke-width="8.24" stroke-linejoin="miter" stroke-miterlimit="10"/><rect x="1164.11" y="2291.05" width="22.95" height="22.95" fill="none" stroke="#ff0000" stroke-width="8.24" stroke-linejoin="miter" stroke-miterlimit="10"/><rect x="1271.68" y="2290.43" width="22.95" height="22.95" fill="none" stroke="#ff0000" stroke-width="8.24" stroke-linejoin="miter" stroke-miterlimit="10"/><rect x="1379.25" y="2306.55" width="22.95" height="22.95" fill="none" stroke="#ff0000" stroke-width="8.24" stroke-linejoin="miter" stroke-miterlimit="10"/><rect x="1486.82" y="2288.58" width="22.95" height="22.95" fill="none" stroke="#ff0000" stroke-width="8.24" stroke-linejoin="miter" stroke-miterlimit="10"/><rect x="1594.39" y="2283.62" width="22.95" height="22.95" fill="none" stroke="#ff0000" stroke-width="8.24" stroke-linejoin="miter" stroke-miterlimit="10"/><rect x="1701.96" y="2287.34" width="22.95" height="22.95" fill="none" stroke="#ff0000" stroke-width="8.24" stroke-linejoin="miter" stroke-miterlimit="10"/><rect x="1809.53" y="2288.58" width="22.95" height="22.95" fill="none" stroke="#ff0000" stroke-width="8.24" stroke-linejoin="miter" stroke-miterlimit="10"/>
<g clip-path="url(#cp2)"><path d="M207.5 2313.9L315.0 2301.9L422.6 2320.2L530.2 2303.8L637.7 2307.2L745.3 2299.1L852.9 2300.7L960.5 2297.9L1068.0 2301.3L1175.6 2304.4L1283.2 2302.0L1390.7 2318.0L1498.3 2300.0L1605.9 2298.8L1713.4 2297.6L1821.0 2295.1" fill="none" stroke="#0000ff" stroke-width="7.91" stroke-linejoin="round"/></g>
<path d="M207.47 2294.37L222.73 2313.87L207.47 2333.36L192.21 2313.87Z" fill="none" stroke="#0000ff" stroke-width="8.24" stroke-linejoin="miter" stroke-miterlimit="10"/><path d="M315.04 2282.41L330.30 2301.91L315.04 2321.40L299.78 2301.91Z" fill="none" stroke="#0000ff" stroke-width="8.24" stroke-linejoin="miter" stroke-miterlimit="10"/><path d="M422.61 2300.69L437.87 2320.19L422.61 2339.68L407.35 2320.19Z" fill="none" stroke="#0000ff" stroke-width="8.24" stroke-linejoin="miter" stroke-miterlimit="10"/><path d="M530.18 2284.27L545.44 2303.77L530.18 2323.26L514.91 2303.77Z" fill="none" stroke="#0000ff" stroke-width="8.24" stroke-linejoin="miter" stroke-miterlimit="10"/><path d="M637.74 2287.68L653.01 2307.18L637.74 2326.67L622.48 2307.18Z" fill="none" stroke="#0000ff" stroke-width="8.24" stroke-linejoin="miter" stroke-miterlimit="10"/><path d="M745.31 2279.63L760.58 2299.12L745.31 2318.62L730.05 2299.12Z" fill="none" stroke="#0000ff" stroke-width="8.24" stroke-linejoin="miter" stroke-miterlimit="10"/><path d="M852.88 2281.17L868.14 2300.67L852.88 2320.16L837.62 2300.67Z" fill="none" stroke="#0000ff" stroke-width="8.24" stroke-linejoin="miter" stroke-miterlimit="10"/><path d="M960.45 2278.39L975.71 2297.88L960.45 2317.38L945.19 2297.88Z" fill="none" stroke="#0000ff" stroke-width="8.24" stroke-linejoin="miter" stroke-miterlimit="10"/><path d="M1068.02 2281.79L1083.28 2301.29L1068.02 2320.78L1052.76 2301.29Z" fill="none" stroke="#0000ff" stroke-width="8.24" stroke-linejoin="miter" stroke-miterlimit="10"/><path d="M1175.59 2284.89L1190.85 2304.39L1175.59 2323.88L1160.33 2304.39Z" fill="none" stroke="#0000ff" stroke-width="8.24" stroke-linejoin="miter" stroke-miterlimit="10"/><path d="M1283.16 2282.54L1298.42 2302.03L1283.16 2321.53L1267.89 2302.03Z" fill="none" stroke="#0000ff" stroke-width="8.24" stroke-linejoin="miter" stroke-miterlimit="10"/><path d="M1390.73 2298.52L1405.99 2318.02L1390.73 2337.51L1375.46 2318.02Z" fill="none" stroke="#0000ff" stroke-width="8.24" stroke-linejoin="miter" stroke-miterlimit="10"/><path d="M1498.29 2280.55L1513.56 2300.05L1498.29 2319.54L1483.03 2300.05Z" fill="none" stroke="#0000ff" stroke-width="8.24" stroke-linejoin="miter" stroke-miterlimit="10"/><path d="M1605.86 2279.32L1621.12 2298.81L1605.86 2318.31L1590.60 2298.81Z" fill="none" stroke="#0000ff" stroke-width="8.24" stroke-linejoin="miter" stroke-miterlimit="10"/><path d="M1713.43 2278.08L1728.69 2297.57L1713.43 2317.07L1698.17 2297.57Z" fill="none" stroke="#0000ff" stroke-width="8.24" stroke-linejoin="miter" stroke-miterlimit="10"/><path d="M1821.00 2275.60L1836.26 2295.09L1821.00 2314.59L1805.74 2295.09Z" fill="none" stroke="#0000ff" stroke-width="8.24" stroke-linejoin="miter" stroke-miterlimit="10"/>
<g clip-path="url(#cp2)"><path d="M207.5 2323.6L315.0 2308.1L422.6 2325.5L530.2 2302.5L637.7 2304.4L745.3 2300.0L852.9 2300.0L960.5 2300.0L1068.0 2300.0L1175.6 2303.8L1283.2 2301.9L1390.7 2317.4L1498.3 2300.0L1605.9 2296.3L1713.4 2295.1L1821.0 2295.1" fill="none" stroke="#00ff00" stroke-width="7.91" stroke-linejoin="round"/></g>
<circle cx="207.47" cy="2323.60" r="14.26" fill="none" stroke="#00ff00" stroke-width="8.24" stroke-linejoin="miter" stroke-miterlimit="10"/><circle cx="315.04" cy="2308.11" r="14.26" fill="none" stroke="#00ff00" stroke-width="8.24" stroke-linejoin="miter" stroke-miterlimit="10"/><circle cx="422.61" cy="2325.46" r="14.26" fill="none" stroke="#00ff00" stroke-width="8.24" stroke-linejoin="miter" stroke-miterlimit="10"/><circle cx="530.18" cy="2302.53" r="14.26" fill="none" stroke="#00ff00" stroke-width="8.24" stroke-linejoin="miter" stroke-miterlimit="10"/><circle cx="637.74" cy="2304.39" r="14.26" fill="none" stroke="#00ff00" stroke-width="8.24" stroke-linejoin="miter" stroke-miterlimit="10"/><circle cx="745.31" cy="2300.05" r="14.26" fill="none" stroke="#00ff00" stroke-width="8.24" stroke-linejoin="miter" stroke-miterlimit="10"/><circle cx="852.88" cy="2300.05" r="14.26" fill="none" stroke="#00ff00" stroke-width="8.24" stroke-linejoin="miter" stroke-miterlimit="10"/><circle cx="960.45" cy="2300.05" r="14.26" fill="none" stroke="#00ff00" stroke-width="8.24" stroke-linejoin="miter" stroke-miterlimit="10"/><circle cx="1068.02" cy="2300.05" r="14.26" fill="none" stroke="#00ff00" stroke-width="8.24" stroke-linejoin="miter" stroke-miterlimit="10"/><circle cx="1175.59" cy="2303.77" r="14.26" fill="none" stroke="#00ff00" stroke-width="8.24" stroke-linejoin="miter" stroke-miterlimit="10"/><circle cx="1283.16" cy="2301.91" r="14.26" fill="none" stroke="#00ff00" stroke-width="8.24" stroke-linejoin="miter" stroke-miterlimit="10"/><circle cx="1390.73" cy="2317.40" r="14.26" fill="none" stroke="#00ff00" stroke-width="8.24" stroke-linejoin="miter" stroke-miterlimit="10"/><circle cx="1498.29" cy="2300.05" r="14.26" fill="none" stroke="#00ff00" stroke-width="8.24" stroke-linejoin="miter" stroke-miterlimit="10"/><circle cx="1605.86" cy="2296.33" r="14.26" fill="none" stroke="#00ff00" stroke-width="8.24" stroke-linejoin="miter" stroke-miterlimit="10"/><circle cx="1713.43" cy="2295.09" r="14.26" fill="none" stroke="#00ff00" stroke-width="8.24" stroke-linejoin="miter" stroke-miterlimit="10"/><circle cx="1821.00" cy="2295.09" r="14.26" fill="none" stroke="#00ff00" stroke-width="8.24" stroke-linejoin="miter" stroke-miterlimit="10"/>
<g clip-path="url(#cp2)"><path d="M207.5 2328.7L315.0 2310.0L422.6 2325.5L530.2 2303.3L637.7 2299.4L745.3 2296.3L852.9 2301.3L960.5 2300.9L1068.0 2297.6L1175.6 2304.4L1283.2 2303.3L1390.7 2318.0L1498.3 2299.4L1605.9 2300.0L1713.4 2296.3L1821.0 2293.2" fill="none" stroke="#ffff00" stroke-width="7.91" stroke-linejoin="round"/></g>
<path d="M190.54 2318.96L224.40 2318.96L207.47 2348.29Z" fill="none" stroke="#ffff00" stroke-width="8.24" stroke-linejoin="miter" stroke-miterlimit="10"/><path d="M298.11 2300.19L331.97 2300.19L315.04 2329.52Z" fill="none" stroke="#ffff00" stroke-width="8.24" stroke-linejoin="miter" stroke-miterlimit="10"/><path d="M405.67 2315.68L439.54 2315.68L422.61 2345.01Z" fill="none" stroke="#ffff00" stroke-width="8.24" stroke-linejoin="miter" stroke-miterlimit="10"/><path d="M513.24 2293.56L547.11 2293.56L530.18 2322.89Z" fill="none" stroke="#ffff00" stroke-width="8.24" stroke-linejoin="miter" stroke-miterlimit="10"/><path d="M620.81 2289.65L654.68 2289.65L637.74 2318.98Z" fill="none" stroke="#ffff00" stroke-width="8.24" stroke-linejoin="miter" stroke-miterlimit="10"/><path d="M728.38 2286.56L762.25 2286.56L745.31 2315.88Z" fill="none" stroke="#ffff00" stroke-width="8.24" stroke-linejoin="miter" stroke-miterlimit="10"/><path d="M835.95 2291.51L869.81 2291.51L852.88 2320.84Z" fill="none" stroke="#ffff00" stroke-width="8.24" stroke-linejoin="miter" stroke-miterlimit="10"/><path d="M943.52 2291.08L977.38 2291.08L960.45 2320.41Z" fill="none" stroke="#ffff00" stroke-width="8.24" stroke-linejoin="miter" stroke-miterlimit="10"/><path d="M1051.09 2287.80L1084.95 2287.80L1068.02 2317.12Z" fill="none" stroke="#ffff00" stroke-width="8.24" stroke-linejoin="miter" stroke-miterlimit="10"/><path d="M1158.66 2294.61L1192.52 2294.61L1175.59 2323.94Z" fill="none" stroke="#ffff00" stroke-width="8.24" stroke-linejoin="miter" stroke-miterlimit="10"/><path d="M1266.22 2293.56L1300.09 2293.56L1283.16 2322.89Z" fill="none" stroke="#ffff00" stroke-width="8.24" stroke-linejoin="miter" stroke-miterlimit="10"/><path d="M1373.79 2308.24L1407.66 2308.24L1390.73 2337.57Z" fill="none" stroke="#ffff00" stroke-width="8.24" stroke-linejoin="miter" stroke-miterlimit="10"/><path d="M1481.36 2289.65L1515.23 2289.65L1498.29 2318.98Z" fill="none" stroke="#ffff00" stroke-width="8.24" stroke-linejoin="miter" stroke-miterlimit="10"/><path d="M1588.93 2290.27L1622.80 2290.27L1605.86 2319.60Z" fill="none" stroke="#ffff00" stroke-width="8.24" stroke-linejoin="miter" stroke-miterlimit="10"/><path d="M1696.50 2286.56L1730.36 2286.56L1713.43 2315.88Z" fill="none" stroke="#ffff00" stroke-width="8.24" stroke-linejoin="miter" stroke-miterlimit="10"/><path d="M1804.07 2283.46L1837.93 2283.46L1821.00 2312.79Z" fill="none" stroke="#ffff00" stroke-width="8.24" stroke-linejoin="miter" stroke-miterlimit="10"/>
<g clip-path="url(#cp2)"><path d="M207.5 2301.9L315.0 2289.5L422.6 2281.5" fill="none" stroke="#00ffff" stroke-width="7.91" stroke-linejoin="round"/><path d="M637.7 2284.2L745.3 2299.1L852.9 2296.0L960.5 2299.7L1068.0 2300.0L1175.6 2304.4L1283.2 2301.3L1390.7 2314.9L1498.3 2298.8L1605.9 2300.0L1713.4 2298.2L1821.0 2300.0" fill="none" stroke="#00ffff" stroke-width="7.91" stroke-linejoin="round"/><line x1="422.61" y1="2281.46" x2="422.61" y2="1660.40" stroke="#00ffff" stroke-width="7.91"/></g>
<path d="M197.69 2284.98L197.69 2318.84L227.02 2301.91Z" fill="none" stroke="#00ffff" stroke-width="8.24" stroke-linejoin="miter" stroke-miterlimit="10"/><path d="M305.26 2272.58L305.26 2306.45L334.59 2289.52Z" fill="none" stroke="#00ffff" stroke-width="8.24" stroke-linejoin="miter" stroke-miterlimit="10"/><path d="M412.83 2264.53L412.83 2298.39L442.16 2281.46Z" fill="none" stroke="#00ffff" stroke-width="8.24" stroke-linejoin="miter" stroke-miterlimit="10"/><path d="M627.97 2267.25L627.97 2301.12L657.30 2284.19Z" fill="none" stroke="#00ffff" stroke-width="8.24" stroke-linejoin="miter" stroke-miterlimit="10"/><path d="M735.54 2282.19L735.54 2316.05L764.87 2299.12Z" fill="none" stroke="#00ffff" stroke-width="8.24" stroke-linejoin="miter" stroke-miterlimit="10"/><path d="M843.11 2279.09L843.11 2312.96L872.43 2296.02Z" fill="none" stroke="#00ffff" stroke-width="8.24" stroke-linejoin="miter" stroke-miterlimit="10"/><path d="M950.67 2282.81L950.67 2316.67L980.00 2299.74Z" fill="none" stroke="#00ffff" stroke-width="8.24" stroke-linejoin="miter" stroke-miterlimit="10"/><path d="M1058.24 2283.12L1058.24 2316.98L1087.57 2300.05Z" fill="none" stroke="#00ffff" stroke-width="8.24" stroke-linejoin="miter" stroke-miterlimit="10"/><path d="M1165.81 2287.45L1165.81 2321.32L1195.14 2304.39Z" fill="none" stroke="#00ffff" stroke-width="8.24" stroke-linejoin="miter" stroke-miterlimit="10"/><path d="M1273.38 2284.36L1273.38 2318.22L1302.71 2301.29Z" fill="none" stroke="#00ffff" stroke-width="8.24" stroke-linejoin="miter" stroke-miterlimit="10"/><path d="M1380.95 2297.99L1380.95 2331.85L1410.28 2314.92Z" fill="none" stroke="#00ffff" stroke-width="8.24" stroke-linejoin="miter" stroke-miterlimit="10"/><path d="M1488.52 2281.88L1488.52 2315.74L1517.85 2298.81Z" fill="none" stroke="#00ffff" stroke-width="8.24" stroke-linejoin="miter" stroke-miterlimit="10"/><path d="M1596.09 2283.12L1596.09 2316.98L1625.41 2300.05Z" fill="none" stroke="#00ffff" stroke-width="8.24" stroke-linejoin="miter" stroke-miterlimit="10"/><path d="M1703.66 2281.26L1703.66 2315.12L1732.98 2298.19Z" fill="none" stroke="#00ffff" stroke-width="8.24" stroke-linejoin="miter" stroke-miterlimit="10"/><path d="M1811.22 2283.12L1811.22 2316.98L1840.55 2300.05Z" fill="none" stroke="#00ffff" stroke-width="8.24" stroke-linejoin="miter" stroke-miterlimit="10"/>
<g clip-path="url(#cp2)"><path d="M207.5 2307.5L315.0 2299.4L422.6 2304.4L530.2 2286.8L637.7 2274.3" fill="none" stroke="#ff00ff" stroke-width="7.91" stroke-linejoin="round"/><path d="M852.9 2281.7L960.5 2293.7L1068.0 2298.8L1175.6 2304.4L1283.2 2301.9L1390.7 2322.4L1498.3 2299.1L1605.9 2306.9L1713.4 2300.0L1821.0 2299.4" fill="none" stroke="#ff00ff" stroke-width="7.91" stroke-linejoin="round"/><line x1="637.74" y1="2274.27" x2="637.74" y2="1660.40" stroke="#ff00ff" stroke-width="7.91"/><line x1="852.88" y1="2281.71" x2="852.88" y2="1660.40" stroke="#ff00ff" stroke-width="7.91"/></g>
<path d="M217.25 2290.55L217.25 2324.42L187.92 2307.49Z" fill="none" stroke="#ff00ff" stroke-width="8.24" stroke-linejoin="miter" stroke-miterlimit="10"/><path d="M324.81 2282.50L324.81 2316.36L295.49 2299.43Z" fill="none" stroke="#ff00ff" stroke-width="8.24" stroke-linejoin="miter" stroke-miterlimit="10"/><path d="M432.38 2287.45L432.38 2321.32L403.06 2304.39Z" fill="none" stroke="#ff00ff" stroke-width="8.24" stroke-linejoin="miter" stroke-miterlimit="10"/><path d="M539.95 2269.86L539.95 2303.72L510.62 2286.79Z" fill="none" stroke="#ff00ff" stroke-width="8.24" stroke-linejoin="miter" stroke-miterlimit="10"/><path d="M647.52 2257.34L647.52 2291.21L618.19 2274.27Z" fill="none" stroke="#ff00ff" stroke-width="8.24" stroke-linejoin="miter" stroke-miterlimit="10"/><path d="M862.66 2264.78L862.66 2298.64L833.33 2281.71Z" fill="none" stroke="#ff00ff" stroke-width="8.24" stroke-linejoin="miter" stroke-miterlimit="10"/><path d="M970.23 2276.80L970.23 2310.66L940.90 2293.73Z" fill="none" stroke="#ff00ff" stroke-width="8.24" stroke-linejoin="miter" stroke-miterlimit="10"/><path d="M1077.80 2281.88L1077.80 2315.74L1048.47 2298.81Z" fill="none" stroke="#ff00ff" stroke-width="8.24" stroke-linejoin="miter" stroke-miterlimit="10"/><path d="M1185.36 2287.45L1185.36 2321.32L1156.04 2304.39Z" fill="none" stroke="#ff00ff" stroke-width="8.24" stroke-linejoin="miter" stroke-miterlimit="10"/><path d="M1292.93 2284.98L1292.93 2318.84L1263.60 2301.91Z" fill="none" stroke="#ff00ff" stroke-width="8.24" stroke-linejoin="miter" stroke-miterlimit="10"/><path d="M1400.50 2305.42L1400.50 2339.29L1371.17 2322.36Z" fill="none" stroke="#ff00ff" stroke-width="8.24" stroke-linejoin="miter" stroke-miterlimit="10"/><path d="M1508.07 2282.13L1508.07 2315.99L1478.74 2299.06Z" fill="none" stroke="#ff00ff" stroke-width="8.24" stroke-linejoin="miter" stroke-miterlimit="10"/><path d="M1615.64 2289.93L1615.64 2323.80L1586.31 2306.87Z" fill="none" stroke="#ff00ff" stroke-width="8.24" stroke-linejoin="miter" stroke-miterlimit="10"/><path d="M1723.21 2283.12L1723.21 2316.98L1693.88 2300.05Z" fill="none" stroke="#ff00ff" stroke-width="8.24" stroke-linejoin="miter" stroke-miterlimit="10"/><path d="M1830.78 2282.50L1830.78 2316.36L1801.45 2299.43Z" fill="none" stroke="#ff00ff" stroke-width="8.24" stroke-linejoin="miter" stroke-miterlimit="10"/>
<rect x="1375.00" y="2360.10" width="405.00" height="519.30" fill="#fff"/>
<line x1="1373.08" y1="2360.10" x2="1782.00" y2="2360.10" stroke="#262626" stroke-width="4.10"/>
<line x1="1373.08" y1="2879.40" x2="1782.00" y2="2879.40" stroke="#262626" stroke-width="3.07"/>
<line x1="1375.00" y1="2358.05" x2="1375.00" y2="2880.93" stroke="#262626" stroke-width="3.84"/>
<line x1="1780.00" y1="2358.05" x2="1780.00" y2="2880.93" stroke="#262626" stroke-width="4.00"/>
<line x1="1388.80" y1="2402.51" x2="1538.74" y2="2402.51" stroke="#000000" stroke-width="9.00"/>
<text transform="translate(1549.31,2410.75) scale(1.0584,1)" font-size="49.68" fill="#000" stroke="#000" stroke-width="0.79" stroke-linejoin="round">Reference</text>
<line x1="1388.80" y1="2474.94" x2="1538.74" y2="2474.94" stroke="#ff0000" stroke-width="7.90"/>
<rect x="1452.81" y="2463.47" width="22.93" height="22.93" fill="none" stroke="#ff0000" stroke-width="8.24" stroke-linejoin="miter" stroke-miterlimit="10"/>
<text transform="translate(1550.25,2483.18) scale(1.0174,1)" font-size="49.68" fill="#000" stroke="#000" stroke-width="0.79" stroke-linejoin="round">AD 1</text>
<line x1="1388.80" y1="2547.37" x2="1538.74" y2="2547.37" stroke="#0000ff" stroke-width="7.90"/>
<path d="M1464.27 2527.89L1479.52 2547.37L1464.27 2566.85L1449.02 2547.37Z" fill="none" stroke="#0000ff" stroke-width="8.24" stroke-linejoin="miter" stroke-miterlimit="10"/>
<text transform="translate(1550.24,2555.60) scale(1.0381,1)" font-size="49.68" fill="#000" stroke="#000" stroke-width="0.79" stroke-linejoin="round">AD 2</text>
<line x1="1388.80" y1="2619.80" x2="1538.74" y2="2619.80" stroke="#00ff00" stroke-width="7.90"/>
<circle cx="1464.27" cy="2619.80" r="14.25" fill="none" stroke="#00ff00" stroke-width="8.24" stroke-linejoin="miter" stroke-miterlimit="10"/>
<text transform="translate(1550.25,2628.03) scale(1.0309,1)" font-size="49.68" fill="#000" stroke="#000" stroke-width="0.79" stroke-linejoin="round">AD 3</text>
<line x1="1388.80" y1="2692.23" x2="1538.74" y2="2692.23" stroke="#ffff00" stroke-width="7.90"/>
<path d="M1447.35 2682.46L1481.19 2682.46L1464.27 2711.76Z" fill="none" stroke="#ffff00" stroke-width="8.24" stroke-linejoin="miter" stroke-miterlimit="10"/>
<text transform="translate(1550.24,2700.46) scale(1.0362,1)" font-size="49.68" fill="#000" stroke="#000" stroke-width="0.79" stroke-linejoin="round">AD4</text>
<line x1="1388.80" y1="2764.66" x2="1538.74" y2="2764.66" stroke="#00ffff" stroke-width="7.90"/>
<path d="M1454.50 2747.74L1454.50 2781.58L1483.81 2764.66Z" fill="none" stroke="#00ffff" stroke-width="8.24" stroke-linejoin="miter" stroke-miterlimit="10"/>
<text transform="translate(1547.39,2772.89) scale(1.0042,1)" font-size="49.68" fill="#000" stroke="#000" stroke-width="0.79" stroke-linejoin="round">SC 1</text>
<line x1="1388.80" y1="2837.09" x2="1538.74" y2="2837.09" stroke="#ff00ff" stroke-width="7.90"/>
<path d="M1474.04 2820.17L1474.04 2854.00L1444.73 2837.09Z" fill="none" stroke="#ff00ff" stroke-width="8.24" stroke-linejoin="miter" stroke-miterlimit="10"/>
<text transform="translate(1547.33,2845.32) scale(1.0233,1)" font-size="49.68" fill="#000" stroke="#000" stroke-width="0.79" stroke-linejoin="round">SC 2</text>
<text transform="translate(156.48,2931.80) scale(0.9750,1)" font-size="55.92" fill="#262626" stroke="#262626" stroke-width="0.89" stroke-linejoin="round">0</text>
<text transform="translate(115.73,2621.97) scale(0.9750,1)" font-size="55.92" fill="#262626" stroke="#262626" stroke-width="0.89" stroke-linejoin="round">0.5</text>
<text transform="translate(154.51,2312.15) scale(0.9750,1)" font-size="55.92" fill="#262626" stroke="#262626" stroke-width="0.89" stroke-linejoin="round">1</text>
<text transform="translate(115.73,2002.32) scale(0.9750,1)" font-size="55.92" fill="#262626" stroke="#262626" stroke-width="0.89" stroke-linejoin="round">1.5</text>
<text transform="translate(157.44,1692.50) scale(0.9750,1)" font-size="55.92" fill="#262626" stroke="#262626" stroke-width="0.89" stroke-linejoin="round">2</text>
<text transform="translate(299.85,2991.30) scale(0.9750,1)" font-size="55.92" fill="#262626" stroke="#262626" stroke-width="0.89" stroke-linejoin="round">2</text>
<text transform="translate(514.51,2991.30) scale(0.9750,1)" font-size="55.92" fill="#262626" stroke="#262626" stroke-width="0.89" stroke-linejoin="round">4</text>
<text transform="translate(729.44,2991.30) scale(0.9750,1)" font-size="55.92" fill="#262626" stroke="#262626" stroke-width="0.89" stroke-linejoin="round">6</text>
<text transform="translate(944.92,2991.30) scale(0.9750,1)" font-size="55.92" fill="#262626" stroke="#262626" stroke-width="0.89" stroke-linejoin="round">8</text>
<text transform="translate(1146.66,2991.30) scale(0.9750,1)" font-size="55.92" fill="#262626" stroke="#262626" stroke-width="0.89" stroke-linejoin="round">10</text>
<text transform="translate(1362.28,2991.30) scale(0.9750,1)" font-size="55.92" fill="#262626" stroke="#262626" stroke-width="0.89" stroke-linejoin="round">12</text>
<text transform="translate(1576.32,2991.30) scale(0.9750,1)" font-size="55.92" fill="#262626" stroke="#262626" stroke-width="0.89" stroke-linejoin="round">14</text>
<text transform="translate(1791.87,2991.30) scale(0.9750,1)" font-size="55.92" fill="#262626" stroke="#262626" stroke-width="0.89" stroke-linejoin="round">16</text>
<text transform="translate(70.40,2581.87) rotate(-90) scale(1.1005,1)" font-size="59.93" fill="#262626" stroke="#262626" stroke-width="0.96" stroke-linejoin="round">capacitance</text>
<text transform="translate(70.40,2258.60) rotate(-90) scale(1.1119,1)" font-size="59.93" fill="#262626" stroke="#262626" stroke-width="0.96" stroke-linejoin="round">variation</text>
<text transform="translate(807.69,3077.60) scale(1.0891,1)" font-size="59.93" fill="#262626" stroke="#262626" stroke-width="0.96" stroke-linejoin="round">section</text>
<text transform="translate(1006.25,3077.60) scale(1.1489,1)" font-size="59.93" fill="#262626" stroke="#262626" stroke-width="0.96" stroke-linejoin="round">number</text>
<text transform="translate(541.26,1612.00) scale(1.1252,1)" font-size="58.15" font-weight="bold" fill="#000" stroke="#000" stroke-width="0.52" stroke-linejoin="round">Series</text>
<text transform="translate(722.64,1612.00) scale(1.0713,1)" font-size="58.15" font-weight="bold" fill="#000" stroke="#000" stroke-width="0.52" stroke-linejoin="round">Capacitance</text>
<text transform="translate(1067.87,1612.00) scale(1.0843,1)" font-size="58.15" font-weight="bold" fill="#000" stroke="#000" stroke-width="0.52" stroke-linejoin="round">Variation</text>
<text transform="translate(1338.30,1612.00) scale(1.0907,1)" font-size="58.15" font-weight="bold" fill="#000" stroke="#000" stroke-width="0.52" stroke-linejoin="round">(C</text>
<text transform="translate(1407.53,1641.80) scale(1.0468,1)" font-size="48.57" font-weight="bold" fill="#000" stroke="#000" stroke-width="0.44" stroke-linejoin="round">S1</text>
<text transform="translate(1462.37,1612.00) scale(1.0752,1)" font-size="58.15" font-weight="bold" fill="#000" stroke="#000" stroke-width="0.52" stroke-linejoin="round">)</text>
<text transform="translate(925.35,3198.10) scale(0.9319,1)" font-size="84.60" fill="#000" stroke="#000" stroke-width="0.50" stroke-linejoin="round">(</text>
<text transform="translate(951.85,3199.00) scale(1.0330,1)" font-size="89.00" font-weight="bold" fill="#000" stroke="#000" stroke-width="0.50" stroke-linejoin="round">b</text>
<text transform="translate(1003.24,3198.10) scale(0.9319,1)" font-size="84.60" fill="#000" stroke="#000" stroke-width="0.50" stroke-linejoin="round">)</text>
</svg>
</body>
</html>
